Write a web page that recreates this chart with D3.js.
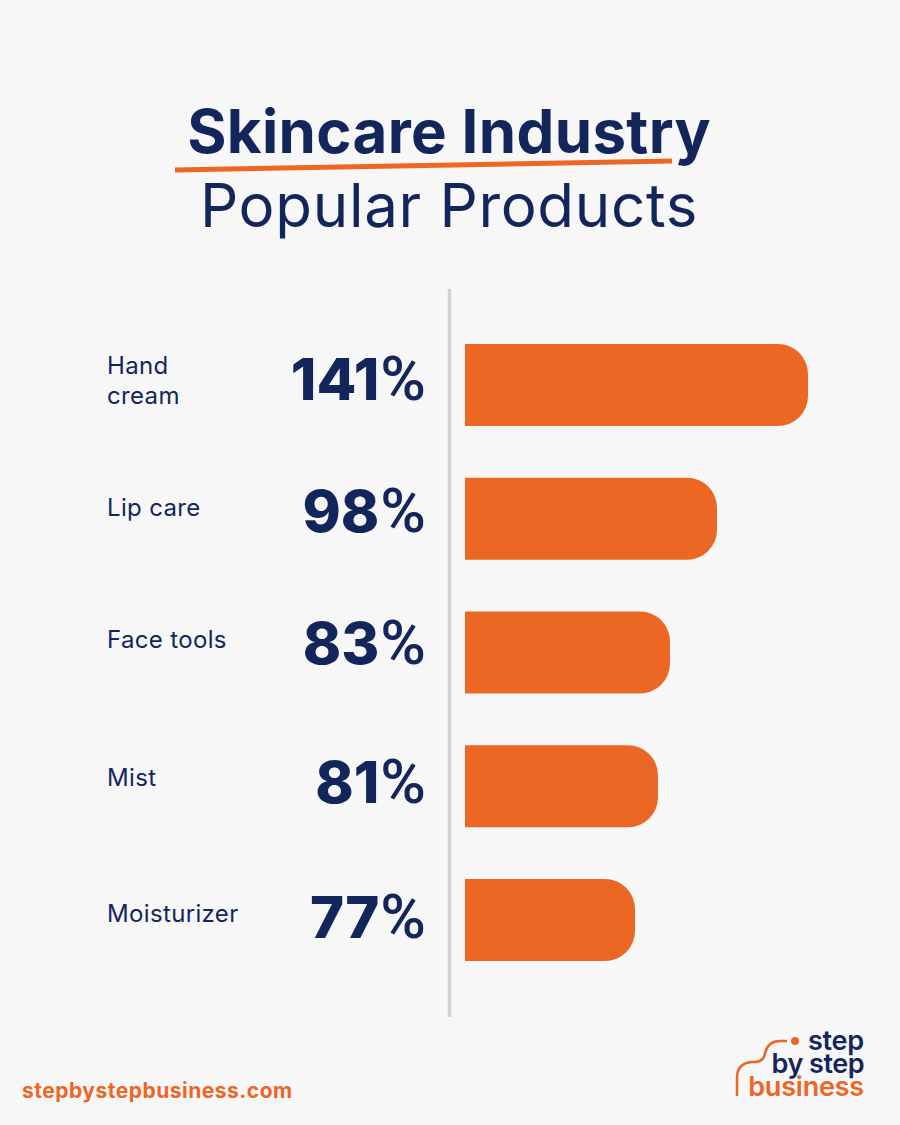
<!DOCTYPE html>
<html>
<head>
<meta charset="utf-8">
<script src="https://cdn.jsdelivr.net/npm/d3@7"></script>
<style>
  html, body { margin: 0; padding: 0; background: #f7f7f8; }
  text { font-family: Inter, sans-serif; }
</style>
</head>
<body>
<svg id="chart" width="900" height="1125"></svg>
<script>
const categories = ['Hand cream', 'Lip care', 'Face tools', 'Mist', 'Moisturizer'];
const values = [141, 98, 83, 81, 77];
const labelLines = [['Hand', 'cream'], ['Lip care'], ['Face tools'], ['Mist'], ['Moisturizer']];

const navy = '#13265b';
const orange = '#ec6624';

const svg = d3.select('#chart');

svg.append('rect')
  .attr('width', 900)
  .attr('height', 1125)
  .attr('fill', '#f7f7f8');

// title
svg.append('text')
  .attr('x', 449)
  .attr('y', 153)
  .attr('text-anchor', 'middle')
  .attr('font-size', 60)
  .attr('font-weight', 700)
  .attr('letter-spacing', 0.35)
  .attr('fill', navy)
  .text('Skincare Industry');

svg.append('line')
  .attr('x1', 175)
  .attr('y1', 170)
  .attr('x2', 672)
  .attr('y2', 161)
  .attr('stroke', orange)
  .attr('stroke-width', 5);

svg.append('text')
  .attr('x', 449)
  .attr('y', 227)
  .attr('text-anchor', 'middle')
  .attr('font-size', 60)
  .attr('font-weight', 400)
  .attr('letter-spacing', 0.7)
  .attr('fill', navy)
  .text('Popular Products');

// the bars in the picture are not proportional to their labels, so the scale has one stop per bar
const x = d3.scaleLinear()
  .domain([77, 81, 83, 98, 141])
  .range([170, 193, 205, 252, 343]);

const y = d3.scaleBand()
  .domain(categories)
  .range([344, 961])
  .paddingInner(0.387);

const barLeft = 465;
const radius = 30;

// the text rows do not sit evenly against the bars in the original
const valueNudge = d3.scaleOrdinal().domain(categories).range([15, 13.5, 11, 17, 18]);
const labelNudge = d3.scaleOrdinal().domain(categories).range([4, -2.5, -5, 0, 2]);

const barPath = (d) => {
  const w = x(d.value);
  const h = y.bandwidth();
  const top = y(d.category);
  const path = d3.path();
  path.moveTo(barLeft, top);
  path.lineTo(barLeft + w - radius, top);
  path.arcTo(barLeft + w, top, barLeft + w, top + radius, radius);
  path.lineTo(barLeft + w, top + h - radius);
  path.arcTo(barLeft + w, top + h, barLeft + w - radius, top + h, radius);
  path.lineTo(barLeft, top + h);
  path.closePath();
  return path.toString();
};

const rows = categories.map((category, i) => ({
  category,
  value: values[i],
  lines: labelLines[i],
}));

svg.append('g')
  .selectAll('path')
  .data(rows)
  .join('path')
  .attr('d', barPath)
  .attr('fill', orange);

svg.append('line')
  .attr('x1', 449.5)
  .attr('y1', 289)
  .attr('x2', 449.5)
  .attr('y2', 1017)
  .attr('stroke', '#d2d2d2')
  .attr('stroke-width', 3.5);

const valueLabels = svg.append('g')
  .selectAll('text')
  .data(rows)
  .join('text')
  .attr('x', 426)
  .attr('y', (d) => y(d.category) + y.bandwidth() / 2 + valueNudge(d.category))
  .attr('text-anchor', 'end')
  .attr('font-size', 58)
  .attr('font-weight', 800)
  .attr('fill', navy);

valueLabels.append('tspan')
  .text((d) => d.value);

// Inter's percent sign is much wider than the one in the picture
valueLabels.append('tspan')
  .attr('dx', 1)
  .attr('font-size', 62)
  .attr('font-weight', 500)
  .style('font-family', 'Roboto')
  .text('%');

const labels = svg.append('g')
  .selectAll('text')
  .data(rows)
  .join('text')
  .attr('font-size', 24)
  .attr('letter-spacing', 0.35)
  .attr('fill', navy);

labels.selectAll('tspan')
  .data((d) => d.lines.map((line, i) => ({ line, i, d })))
  .join('tspan')
  .attr('x', 107)
  .attr('y', (t) => y(t.d.category) + y.bandwidth() / 2 + labelNudge(t.d.category)
    + (t.i - (t.d.lines.length - 1) / 2) * 30)
  .text((t) => t.line);

// footer
svg.append('text')
  .attr('x', 22)
  .attr('y', 1098)
  .attr('font-size', 21)
  .attr('font-weight', 700)
  .attr('letter-spacing', 0.5)
  .attr('fill', orange)
  .text('stepbystepbusiness.com');

// logo
const logo = svg.append('g');

logo.append('path')
  .attr('d', 'M737 1096 V1078 Q737 1063 752 1062 H756 Q764 1061 765 1053 Q768 1041 780 1041 H787')
  .attr('fill', 'none')
  .attr('stroke', orange)
  .attr('stroke-width', 2.5);

logo.append('circle')
  .attr('cx', 795)
  .attr('cy', 1041)
  .attr('r', 4)
  .attr('fill', orange);

const logoRows = [
  ['step', 1050, navy, -0.2],
  ['by step', 1073, navy, -0.5],
  ['business', 1096, orange, -0.2],
];

logo.selectAll('text')
  .data(logoRows)
  .join('text')
  .attr('x', 864)
  .attr('y', (d) => d[1])
  .attr('text-anchor', 'end')
  .attr('font-size', 27)
  .attr('font-weight', 600)
  .attr('letter-spacing', (d) => d[3])
  .attr('fill', (d) => d[2])
  .text((d) => d[0]);
</script>
</body>
</html>
